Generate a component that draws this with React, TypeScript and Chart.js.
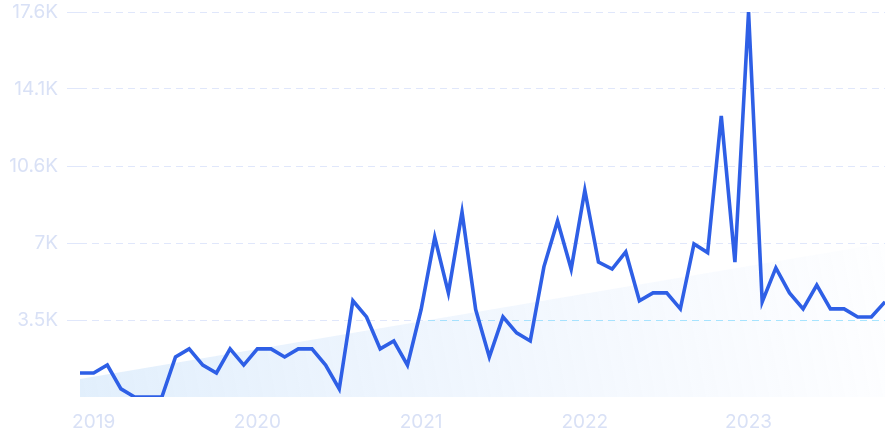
import React, { useEffect, useRef } from "react";
import { Chart, registerables } from "chart.js";

Chart.register(...registerables);

const categories = [
  "2018-12",
  "2019-01","2019-02","2019-03","2019-04","2019-05","2019-06","2019-07","2019-08","2019-09","2019-10","2019-11","2019-12",
  "2020-01","2020-02","2020-03","2020-04","2020-05","2020-06","2020-07","2020-08","2020-09","2020-10","2020-11","2020-12",
  "2021-01","2021-02","2021-03","2021-04","2021-05","2021-06","2021-07","2021-08","2021-09","2021-10","2021-11","2021-12",
  "2022-01","2022-02","2022-03","2022-04","2022-05","2022-06","2022-07","2022-08","2022-09","2022-10","2022-11","2022-12",
  "2023-01","2023-02","2023-03","2023-04","2023-05","2023-06","2023-07","2023-08","2023-09","2023-10","2023-11",
];

const searches = [
  1100,1100,1460,370,0,0,0,1830,2200,1460,1100,2200,
  1460,2200,2200,1830,2200,2200,1460,370,4400,3660,2200,2560,
  1460,4000,7300,4760,8450,4000,1830,3660,2930,2560,5950,8050,
  5850,9450,6170,5850,6630,4400,4760,4760,4030,7000,6600,12850,
  6170,17600,4350,5900,4760,4030,5120,4030,4030,3660,3660,4350,
];

const trendStart = 820;
const trendEnd = 7040;
const trend = categories.map((_, i) =>
  i === 0 ? trendStart : i === categories.length - 1 ? trendEnd : null
);

const yTicks = [3520, 7040, 10560, 14080, 17600];
const yTickLabels = ["3.5K", "7K", "10.6K", "14.1K", "17.6K"];

const LABEL_COLOR = "#d9e1f6";
const GRID_COLOR = "#e0e7fb";
const LINE_COLOR = "#2e5fe6";

const clearPadding = (s: any) => {
  s.paddingTop = 0;
  s.paddingBottom = 0;
  s.paddingLeft = 0;
  s.paddingRight = 0;
};

export default function App() {
  const ref = useRef<HTMLCanvasElement>(null);
  useEffect(() => {
    if (!ref.current) return;
    const chart = new Chart(ref.current, {
      type: "line",
      data: {
        labels: categories,
        datasets: [
          {
            data: searches,
            borderColor: LINE_COLOR,
            borderWidth: 3.6,
            pointRadius: 0,
            tension: 0,
            fill: false,
            clip: 0,
            order: 0,
          },
          {
            data: trend,
            spanGaps: true,
            borderWidth: 0,
            borderColor: "rgba(0,0,0,0)",
            pointRadius: 0,
            tension: 0,
            fill: "origin",
            order: 1,
            backgroundColor: (c: any) => {
              const area = c.chart.chartArea;
              if (!area) return "rgba(150,198,245,0.27)";
              const g = c.chart.ctx.createLinearGradient(area.left, area.bottom, area.right, area.top + 230);
              g.addColorStop(0, "rgba(150,198,245,0.28)");
              g.addColorStop(1, "rgba(170,200,250,0.02)");
              return g;
            },
          },
        ],
      },
      options: {
        animation: false,
        responsive: false,
        layout: { autoPadding: false, padding: { top: 12, right: 3, left: 0, bottom: 0 } },
        plugins: { legend: { display: false }, tooltip: { enabled: false } },
        scales: {
          x: {
            offset: false,
            grid: { display: false },
            border: { display: false },
            afterFit: (s: any) => { s.height = 46; clearPadding(s); },
            ticks: {
              autoSkip: false,
              maxRotation: 0,
              padding: 6,
              color: LABEL_COLOR,
              font: { family: "Inter", size: 19 },
              callback: (_: any, i: number) =>
                categories[i].endsWith("-01") ? categories[i].slice(0, 4) : null,
            },
          },
          y: {
            min: 0,
            max: 17600,
            afterBuildTicks: (s: any) => { s.ticks = yTicks.map((value) => ({ value })); },
            afterFit: (s: any) => { s.width = 80; clearPadding(s); },
            border: { display: false, dash: [7, 5] },
            grid: {
              color: (c: any) => {
                const area = c.chart.chartArea;
                if (c.tick && c.tick.value === yTicks[0] && area) {
                  const g = c.chart.ctx.createLinearGradient(area.left, 0, area.right, 0);
                  const p = 0.43;
                  g.addColorStop(0, GRID_COLOR);
                  g.addColorStop(p, GRID_COLOR);
                  g.addColorStop(p, "#a8e6ff");
                  g.addColorStop(1, "#a8e6ff");
                  return g;
                }
                return GRID_COLOR;
              },
              lineWidth: 1,
              drawTicks: true,
              tickLength: 13,
            },
            ticks: {
              padding: 9,
              color: LABEL_COLOR,
              font: { family: "Inter", size: 19 },
              callback: (v: any) => {
                const i = yTicks.indexOf(Number(v));
                return i >= 0 ? yTickLabels[i] : null;
              },
            },
          },
        },
      },
    } as any);
    return () => chart.destroy();
  }, []);
  return (
    <div style={{ position: "fixed", left: 0, top: 0, width: 888, height: 443, background: "#fff" }}>
      <canvas ref={ref} width={888} height={443} style={{ display: "block", width: 888, height: 443 }} />
    </div>
  );
}
